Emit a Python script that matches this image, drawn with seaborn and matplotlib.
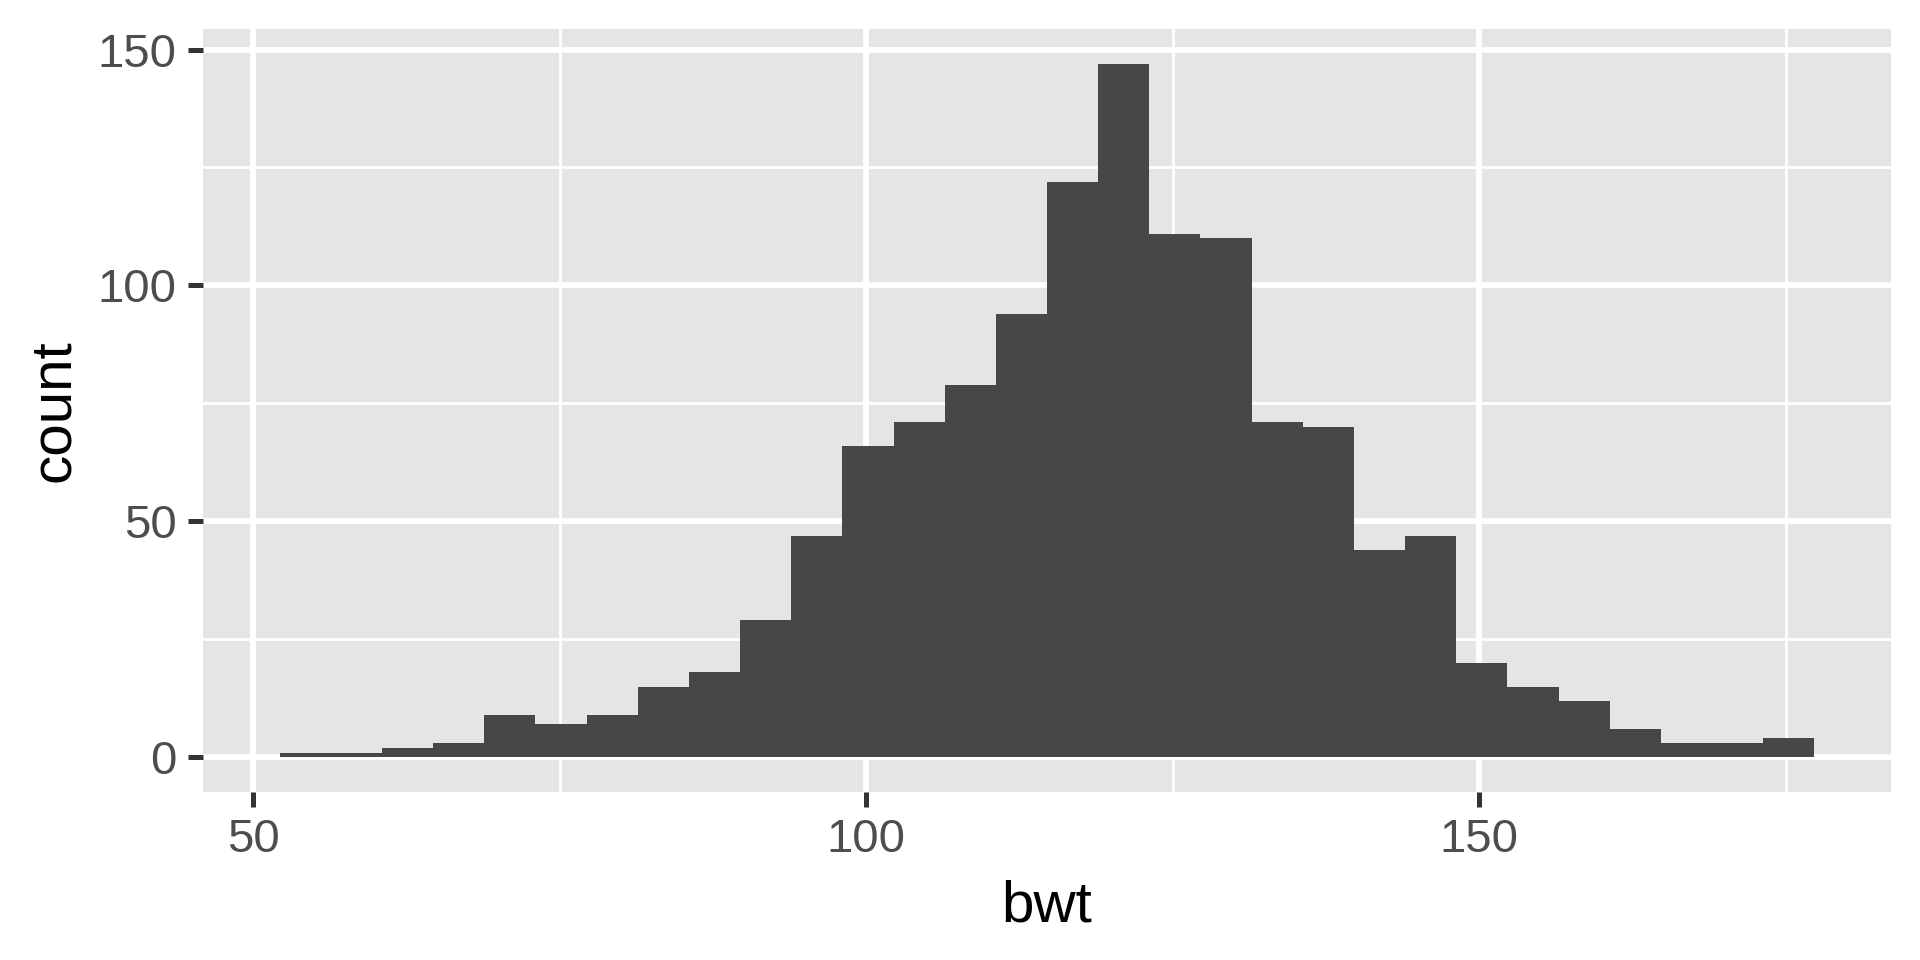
import numpy as np
import pandas as pd
import matplotlib
matplotlib.use("Agg")
import matplotlib.pyplot as plt
from matplotlib.ticker import MultipleLocator
import seaborn as sns

# Histogram of birth weight (30 bins, ggplot-style)
bin_start = 52.155
bin_width = 121 / 29
counts = [1, 1, 2, 3, 9, 7, 9, 15, 18, 29, 47, 66, 71, 79, 94,
          122, 147, 111, 110, 71, 70, 44, 47, 20, 15, 12, 6, 3, 3, 4]
x_ticks = [50, 100, 150]
y_ticks = [0, 50, 100, 150]

edges = bin_start + bin_width * np.arange(len(counts) + 1)
df = pd.DataFrame({"bwt": (edges[:-1] + edges[1:]) / 2, "n": counts})

sns.set_theme(style="darkgrid")
plt.rcParams["font.family"] = ["Liberation Sans", "DejaVu Sans"]

fig = plt.figure(figsize=(9.6, 4.8), dpi=200)
ax = fig.add_axes([203 / 1920, 1 - 792 / 960, (1891 - 203) / 1920, (792 - 29) / 960])
ax.set_facecolor("#E5E5E5")

sns.histplot(data=df, x="bwt", weights="n", binwidth=bin_width,
             binrange=(edges[0], edges[-1]), ax=ax,
             color="#474747", alpha=1, edgecolor="none", linewidth=0)

span = edges[-1] - edges[0]
ax.set_xlim(edges[0] - 0.05 * span, edges[-1] + 0.05 * span)
ax.set_ylim(-0.05 * max(counts), 1.05 * max(counts))

ax.set_xticks(x_ticks)
ax.set_yticks(y_ticks)
ax.xaxis.set_minor_locator(MultipleLocator(25))
ax.yaxis.set_minor_locator(MultipleLocator(25))
ax.grid(which="major", color="white", linewidth=2.1)
ax.grid(which="minor", color="white", linewidth=1.0)
ax.set_axisbelow(True)
for s in ax.spines.values():
    s.set_visible(False)

ax.tick_params(axis="both", which="major", length=5.5, width=1.8, color="#333333",
               labelsize=17, labelcolor="#4D4D4D", pad=4, bottom=True, left=True)
ax.tick_params(axis="both", which="minor", length=0)

ax.set_xlabel("bwt", fontsize=21, color="black", labelpad=6)
ax.set_ylabel("count", fontsize=21, color="black", labelpad=6)

fig.savefig("out.png", dpi=200)
